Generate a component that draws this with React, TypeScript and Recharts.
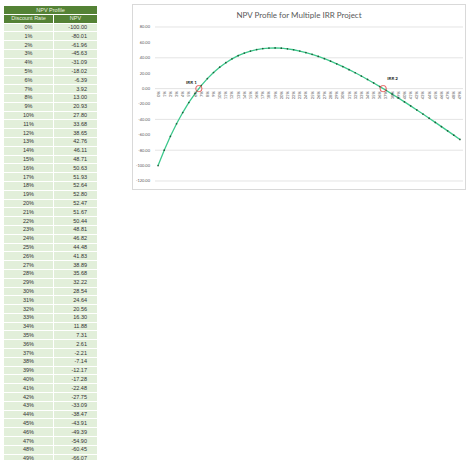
import React from 'react';
import { LineChart, Line, XAxis, YAxis, CartesianGrid, ReferenceDot } from 'recharts';

// discount rates in percent, one per row of the table
const discountRates = [
  0, 1, 2, 3, 4, 5, 6, 7, 8, 9, 10, 11, 12, 13, 14, 15, 16, 17, 18, 19, 20, 21, 22, 23, 24,
  25, 26, 27, 28, 29, 30, 31, 32, 33, 34, 35, 36, 37, 38, 39, 40, 41, 42, 43, 44, 45, 46, 47, 48, 49,
];

const npvValues = [
  -100.0, -80.01, -61.96, -45.63, -31.09, -18.02, -6.39, 3.92, 13.0, 20.93,
  27.8, 33.68, 38.65, 42.76, 46.11, 48.71, 50.63, 51.93, 52.64, 52.8,
  52.47, 51.67, 50.44, 48.81, 46.82, 44.48, 41.83, 38.89, 35.68, 32.22,
  28.54, 24.64, 20.56, 16.3, 11.88, 7.31, 2.61, -2.21, -7.14, -12.17,
  -17.28, -22.48, -27.75, -33.09, -38.47, -43.91, -49.39, -54.9, -60.45, -66.07,
];

const irrNames = ['IRR 1', 'IRR 2'];
const irrRates = [6.62, 36.54];

const yTicks = [-120, -100, -80, -60, -40, -20, 0, 20, 40, 60, 80];

const chartData = discountRates.map((r, i) => ({ rate: r, npv: npvValues[i] }));

const GREY = '#595959';

const RateTick = (props: any) => {
  const { cx, cy, label } = props;
  const y = cy + 2.5;
  return (
    <text x={cx} y={y} transform={`rotate(-90, ${cx}, ${y})`} textAnchor="end" dominantBaseline="central"
      fontSize={4.2} fill={GREY} fontFamily="Lato, sans-serif">
      {label}
    </text>
  );
};

const IrrMarker = (props: any) => {
  const { cx, cy, name, side } = props;
  return (
    <g>
      <rect x={cx - 3} y={cy - 3} width={6} height={6} rx={2.5} fill="none" stroke="#e04848" strokeWidth={0.9} />
      <text x={side === 'left' ? cx - 2 : cx + 4} y={side === 'left' ? cy - 5 : cy - 9}
        textAnchor={side === 'left' ? 'end' : 'start'} fontSize={4.5} fontWeight="bold" fill="#222"
        fontFamily="Lato, sans-serif">
        {name}
      </text>
    </g>
  );
};

const NpvTable = () => {
  const rowH = 8.8;
  const cell: React.CSSProperties = {
    height: rowH, padding: 0, border: '1px solid #ffffff', fontSize: 5.5, lineHeight: `${rowH - 2}px`,
    whiteSpace: 'nowrap', overflow: 'hidden', boxSizing: 'border-box',
  };
  const head: React.CSSProperties = { ...cell, background: '#548235', color: '#e8f0e0', textAlign: 'center' };
  return (
    <table style={{ position: 'absolute', left: 3, top: 5, width: 94, borderCollapse: 'collapse', tableLayout: 'fixed',
      fontFamily: '"Liberation Sans", Arial, sans-serif', color: '#333' }}>
      <colgroup>
        <col style={{ width: 50 }} />
        <col style={{ width: 44 }} />
      </colgroup>
      <tbody>
        <tr><td colSpan={2} style={head}>NPV Profile</td></tr>
        <tr><td style={head}>Discount Rate</td><td style={head}>NPV</td></tr>
        {discountRates.map((r, i) => (
          <tr key={r}>
            <td style={{ ...cell, background: '#e2efda', textAlign: 'center' }}>{`${r}%`}</td>
            <td style={{ ...cell, background: '#e2efda', textAlign: 'right', paddingRight: 10 }}>
              {npvValues[i].toFixed(2)}
            </td>
          </tr>
        ))}
      </tbody>
    </table>
  );
};

export default function App() {
  return (
    <div style={{ position: 'absolute', left: 0, top: 0, width: 474, height: 460, overflow: 'hidden', background: '#fff' }}>
      <NpvTable />
      <div style={{ position: 'absolute', left: 132, top: 4, width: 332, height: 184, border: '1px solid #d9d9d9', background: '#fff' }}>
        <div style={{ position: 'absolute', left: 0, right: 0, top: 5, textAlign: 'center', fontSize: 8,
          fontFamily: 'Lato, sans-serif', color: GREY }}>
          NPV Profile for Multiple IRR Project
        </div>
        <LineChart width={332} height={184} data={chartData} margin={{ top: 22, right: 2, bottom: 8, left: 0 }}>
          <CartesianGrid vertical={false} stroke="#d9d9d9" strokeWidth={0.7} />
          <XAxis dataKey="rate" type="number" domain={[-0.5, 49.5]} hide />
          <YAxis type="number" domain={[-120, 80]} ticks={yTicks} width={22} axisLine={false} tickLine={false}
            tickSize={3} tickMargin={2} tickFormatter={(v: number) => v.toFixed(2)}
            tick={{ fontSize: 4, fill: GREY, fontFamily: 'Lato, sans-serif' }} />
          {discountRates.map((r) => (
            <ReferenceDot key={`lbl-${r}`} x={r} y={0} r={0}
              shape={(p: any) => <RateTick {...p} label={`${r}%`} />} />
          ))}
          <Line type="linear" dataKey="npv" stroke="#3cc88c" strokeWidth={1.3}
            dot={{ r: 0.85, fill: '#1f5e3a', stroke: 'none' }} isAnimationActive={false} />
          {irrRates.map((r, i) => (
            <ReferenceDot key={`irr-${i}`} x={r} y={0} r={3}
              shape={(p: any) => <IrrMarker {...p} name={irrNames[i]} side={i === 0 ? 'left' : 'right'} />} />
          ))}
        </LineChart>
      </div>
    </div>
  );
}
